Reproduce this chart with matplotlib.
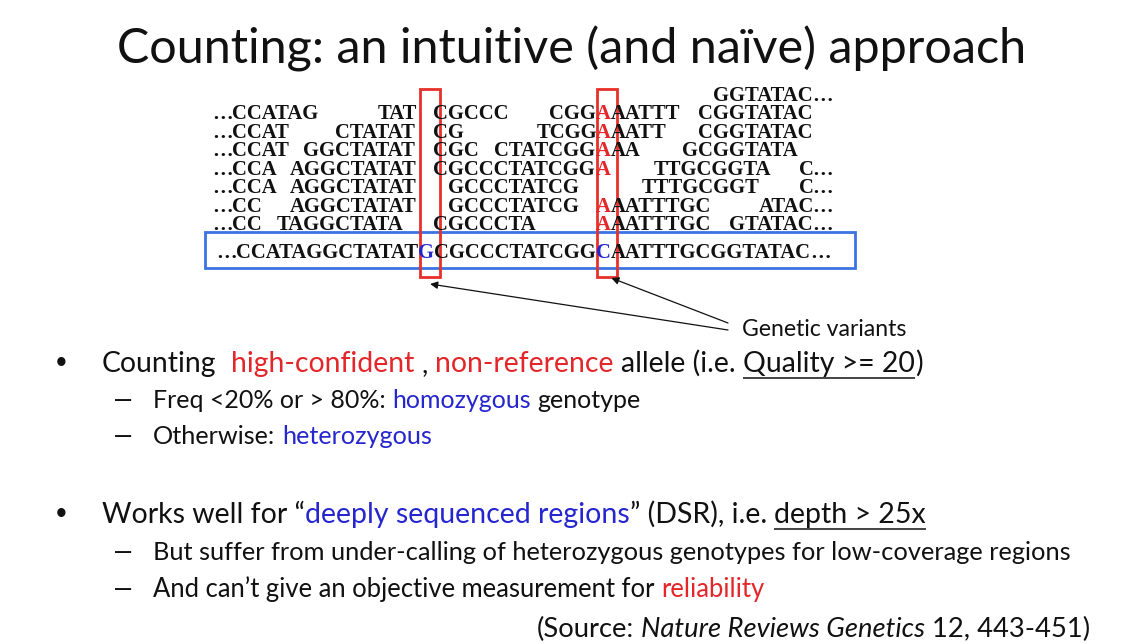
import matplotlib
matplotlib.use("Agg")
import matplotlib.pyplot as plt
from matplotlib.patches import Rectangle

# ---------------- data ----------------
TITLE = "Counting: an intuitive (and naïve) approach"

REFERENCE = "CCATAGGCTATATGCGCCCTATCGGCAATTTGCGGTATAC"
READS = [
    " " * 33 + "GGTATAC",
    "CCATAG    TAT CGCCC   CGGAAATTT CGGTATAC",
    "CCAT   CTATAT CG     TCGGAAATT  CGGTATAC",
    "CCAT GGCTATAT CGC CTATCGGAAA   GCGGTATA ",
    "CCA AGGCTATAT CGCCCTATCGGA   TTGCGGTA  C",
    "CCA AGGCTATAT  GCCCTATCG    TTTGCGGT   C",
    "CC  AGGCTATAT  GCCCTATCG AAATTTGC   ATAC",
    "CC TAGGCTATA  CGCCCTA    AAATTTGC GTATAC",
]
READ_LEAD_DOTS = [False, True, True, True, True, True, True, True]
READ_TRAIL_DOTS = [True, False, False, False, True, True, True, True]
VARIANT_COLUMNS = [13, 25]
ELLIPSIS = "\u2026"
ANNOTATION = "Genetic variants"

# bullet lines: list of (text fragment, style) ; style: k=black r=red b=blue u=underline i=italic
BULLET_1 = [("Counting  ", "k"), ("high-confident", "r"), (" , ", "k"),
            ("non-reference", "r"), (" allele (i.e. ", "k"),
            ("Quality >= 20", "u"), (")", "k")]
SUB_1A = [("Freq <20% or > 80%: ", "k"), ("homozygous", "b"), (" genotype", "k")]
SUB_1B = [("Otherwise: ", "k"), ("heterozygous", "b")]
BULLET_2 = [("Works well for \u201c", "k"), ("deeply sequenced regions", "b"),
            ("\u201d (DSR), i.e. ", "k"), ("depth > 25x", "u")]
SUB_2A = [("But suffer from under-calling of heterozygous genotypes for low-coverage regions", "k")]
SUB_2B = [("And can\u2019t give an objective measurement for ", "k"), ("reliability", "r")]
SOURCE = [("(Source: ", "k"), ("Nature Reviews Genetics", "i"), (" 12, 443-451)", "k")]

# ---------------- style ----------------
W, H = 1132, 643
SANS = "Lato"
SERIF = "Liberation Serif"
BLACK = "#111111"
RED = "#e3262a"
BLUE = "#2626cf"
BOX_RED = "#e8302a"
BOX_BLUE = "#3b73e3"
STYLE_COLOR = {"k": BLACK, "r": RED, "b": BLUE, "u": BLACK, "i": BLACK}

fig = plt.figure(figsize=(W / 100, H / 100), dpi=100)
fig.patch.set_facecolor("white")
ax = fig.add_axes([0, 0, 1, 1])
ax.set_xlim(0, W)
ax.set_ylim(H, 0)
ax.axis("off")
renderer = fig.canvas.get_renderer()


def tw(s, **kw):
    """advance width of s in pixels"""
    t1 = ax.text(0, 0, "|" + s + "|", **kw)
    t2 = ax.text(0, 0, "||", **kw)
    w = t1.get_window_extent(renderer).width - t2.get_window_extent(renderer).width
    t1.remove()
    t2.remove()
    return w


def fkw(sz, style, family=SANS):
    return dict(fontsize=sz, family=family,
                style="italic" if style == "i" else "normal")


def rich_line(x0, y, segs, target_w, family=SANS, base=20.0):
    nat = sum(tw(s, **fkw(base, st, family)) for s, st in segs)
    sz = base * target_w / nat
    x = x0
    for s, st in segs:
        kw = fkw(sz, st, family)
        w = tw(s, **kw)
        body = s.strip()
        lead = s[: len(s) - len(s.lstrip())]
        xs = x + (tw(lead, **kw) if lead else 0.0)
        if body:
            ax.text(xs, y, body, color=STYLE_COLOR[st], va="baseline", ha="left", **kw)
            if st == "u":
                bw = tw(body, **kw)
                em = sz * 100 / 72
                uy = y + 0.22 * em
                ax.plot([xs, xs + bw], [uy, uy], color=STYLE_COLOR[st], lw=1.1,
                        solid_capstyle="butt")
        x += w
    return sz


# ---------------- title ----------------
rich_line(117, 63, [(TITLE, "k")], 913)

# ---------------- alignment block ----------------
REF_X0, REF_LETTERS_W, REF_Y = 236, 577, 258
READ_X0 = 232
READ_STRETCH = 1.012
ROW_Y0, ROW_DY = 101, 18.45

nat = tw(REFERENCE, fontsize=14, family=SERIF, weight="bold")
dna_sz = 14 * REF_LETTERS_W / nat
dkw = dict(fontsize=dna_sz, family=SERIF, weight="bold")
col_x = [tw(REFERENCE[:i], **dkw) for i in range(len(REFERENCE) + 1)]


def draw_seq(seq, y, xmap, highlight_color, lead, trail):
    if lead:
        ax.text(xmap(0) + 1, y, ELLIPSIS, color=BLACK, va="baseline", ha="right", **dkw)
    i = 0
    n = len(seq)
    while i < n:
        if seq[i] == " ":
            i += 1
            continue
        j = i
        while j < n and seq[j] != " " and (j == i or (j not in VARIANT_COLUMNS and j - 1 not in VARIANT_COLUMNS)):
            j += 1
        piece = seq[i:j]
        color = highlight_color if i in VARIANT_COLUMNS else BLACK
        ax.text(xmap(i), y, piece, color=color, va="baseline", ha="left", **dkw)
        i = j
    if trail:
        ax.text(xmap(n) - 1, y, ELLIPSIS, color=BLACK, va="baseline", ha="left", **dkw)


def ref_x(i):
    return REF_X0 + col_x[i]


def read_x(i):
    return READ_X0 + col_x[i] * READ_STRETCH


for r, seq in enumerate(READS):
    draw_seq(seq, ROW_Y0 + r * ROW_DY, read_x, RED,
             READ_LEAD_DOTS[r], READ_TRAIL_DOTS[r])

draw_seq(REFERENCE, REF_Y, ref_x, BLUE, True, True)

# blue reference box
ax.add_patch(Rectangle((205, 232), 650, 36, fill=False, ec=BOX_BLUE, lw=2.0))

# red variant boxes
centers = []
for c in VARIANT_COLUMNS:
    cx = (ref_x(c) + ref_x(c + 1)) / 2 + 4
    centers.append(cx)
    ax.add_patch(Rectangle((cx - 10, 89), 20, 188, fill=False, ec=BOX_RED, lw=2.0))

# annotation
rich_line(742, 336, [(ANNOTATION, "k")], 165)
arrow_kw = dict(arrowstyle="-|>", color=BLACK, lw=0.9, mutation_scale=11,
                shrinkA=0, shrinkB=0)
ax.annotate("", xy=(centers[0], 284), xytext=(728, 330), arrowprops=arrow_kw)
ax.annotate("", xy=(centers[1] + 4, 278), xytext=(728, 323), arrowprops=arrow_kw)

# ---------------- bullets ----------------
BULLET_FONT = "Liberation Sans"


def bullet(y):
    ax.text(61.5, y, "\u2022", fontsize=22, family=BULLET_FONT, color=BLACK,
            va="baseline", ha="center")


def dash(y):
    ax.text(115, y, "\u2013", fontsize=21, family=BULLET_FONT, color=BLACK,
            va="baseline", ha="left")


bullet(372)
rich_line(102, 372, BULLET_1, 821)
dash(408)
rich_line(153, 408, SUB_1A, 489)
dash(444)
rich_line(153, 444, SUB_1B, 279)

bullet(523)
rich_line(102, 523, BULLET_2, 824)
dash(560)
rich_line(153, 560, SUB_2A, 917)
dash(597)
rich_line(153, 597, SUB_2B, 613)

rich_line(537, 637, SOURCE, 553)

fig.savefig("out.png", dpi=100, facecolor="white")
